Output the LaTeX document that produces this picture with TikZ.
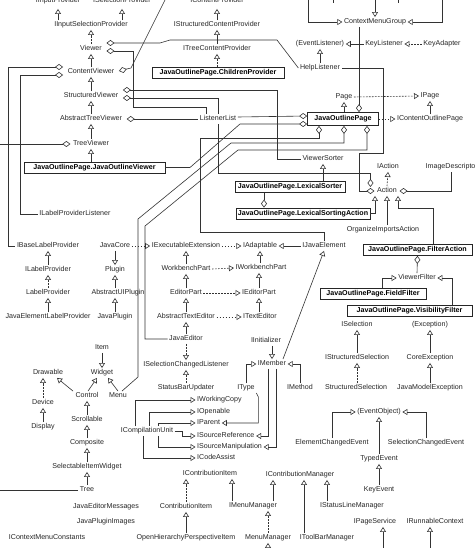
\documentclass[tikz,border=0pt]{standalone}
\usepackage{fontspec}
\setmainfont{Liberation Sans}
\usetikzlibrary{arrows.meta}
\begin{document}
\begin{tikzpicture}[x=1pt,y=-1pt,
  every node/.style={font=\fontsize{7.1}{8}\selectfont, inner xsep=1.5pt, inner ysep=1.5pt, text height=5.1pt, text depth=1.4pt, text=black!85},
  bx/.style={draw=black!85, line width=0.7pt, font=\fontsize{7.1}{8}\selectfont\bfseries, text=black, minimum height=11pt, inner xsep=0pt, inner ysep=0pt},
  ln/.style={draw=black!80, line width=0.6pt},
  inh/.style={ln, -{Triangle[open, length=5pt, width=6pt]}},
  real/.style={inh, dash pattern=on 1.6pt off 1.4pt},
  agg/.style={ln, {Diamond[open, length=8pt, width=6pt]}-},
]
\fill[white] (0,0) rectangle (474,548);
\useasboundingbox (0,0) rectangle (474,548);

% ---------- nodes ----------
\node (iinputprov) at (58,1) {IInputProvider};
\node (iselprov) at (122,1) {ISelectionProvider};
\node (icontprov) at (217,1) {IContentProvider};
\node (iinputsel) at (91,25) {IInputSelectionProvider};
\node (istructcp) at (217,25) {IStructuredContentProvider};
\node (viewer) at (91,49) {Viewer};
\node (itreecp) at (217,49) {ITreeContentProvider};
\node (contentviewer) at (91,72) {ContentViewer};
\node[bx, minimum width=132pt] (childprov) at (218,72.5) {JavaOutlinePage.ChildrenProvider};
\node (structviewer) at (91,96) {StructuredViewer};
\node (abstracttv) at (91,119) {AbstractTreeViewer};
\node (listenerlist) at (218,119) {ListenerList};
\node (treeviewer) at (91,144) {TreeViewer};
\node[bx, minimum width=141pt] (jov) at (94.5,167.5) {JavaOutlinePage.JavaOutlineViewer};
\node (cmg) at (375,22) {ContextMenuGroup};
\node (eventlistener) at (320,44) {(EventListener)};
\node (keylistener) at (384,44) {KeyListener};
\node (keyadapter) at (442,44) {KeyAdapter};
\node (helplistener) at (320,68) {HelpListener};
\node (page) at (344,97) {Page};
\node (ipage) at (430,96) {IPage};
\node[bx, minimum width=71pt, minimum height=13pt] (jop) at (343,119) {JavaOutlinePage};
\node (icop) at (430,119) {IContentOutlinePage};
\node (viewersorter) at (323,159) {ViewerSorter};
\node (iaction) at (388,167) {IAction};
\node[anchor=west] (imagedesc) at (424,167) {ImageDescriptor};
\node[bx, minimum width=110pt] (lexsorter) at (290,187) {JavaOutlinePage.LexicalSorter};
\node (action) at (387,191) {Action};
\node[bx, minimum width=134pt] (lsa) at (303,213.5) {JavaOutlinePage.LexicalSortingAction};
\node (organize) at (383,230) {OrganizeImportsAction};
\node[bx, minimum width=109pt] (fa) at (417.5,250) {JavaOutlinePage.FilterAction};
\node (ilpl) at (75,214) {ILabelProviderListener};
\node (ibaselp) at (48,246) {IBaseLabelProvider};
\node (javacore) at (115,246) {JavaCore};
\node (iexecext) at (186,246) {IExecutableExtension};
\node (iadaptable) at (260,246) {IAdaptable};
\node (ijavaelement) at (324,246) {IJavaElement};
\node (ilabelprov) at (48,270) {ILabelProvider};
\node (plugin) at (115,270) {Plugin};
\node (workbenchpart) at (186,269) {WorkbenchPart};
\node (iworkbenchpart) at (261,268) {IWorkbenchPart};
\node (viewerfilter) at (417,278) {ViewerFilter};
\node (labelprov) at (48,293) {LabelProvider};
\node (abstractuip) at (118,293) {AbstractUIPlugin};
\node (editorpart) at (186,293) {EditorPart};
\node (ieditorpart) at (259,293) {IEditorPart};
\node[bx, minimum width=106pt] (ff) at (373,293.5) {JavaOutlinePage.FieldFilter};
\node[bx, minimum width=125pt] (vf) at (409.5,311) {JavaOutlinePage.VisibilityFilter};
\node (jelp) at (48,317) {JavaElementLabelProvider};
\node (javaplugin) at (115,317) {JavaPlugin};
\node (ate) at (186,317) {AbstractTextEditor};
\node (itexteditor) at (260,317) {ITextEditor};
\node (iselection) at (357,325) {ISelection};
\node (exception) at (430,325) {(Exception)};
\node (javaeditor) at (186,339) {JavaEditor};
\node (iinitializer) at (266,341) {IInitializer};
\node (item) at (102,348) {Item};
\node (istructsel) at (357,358) {IStructuredSelection};
\node (coreexc) at (430,358) {CoreException};
\node (imember) at (272,364) {IMember};
\node (iscl) at (186,365) {ISelectionChangedListener};
\node (drawable) at (48,373) {Drawable};
\node (widget) at (102,373) {Widget};
\node (statusbar) at (186,388) {StatusBarUpdater};
\node (itype) at (246,388) {IType};
\node (imethod) at (300,388) {IMethod};
\node (structsel) at (356,388) {StructuredSelection};
\node (javamodelexc) at (430,388) {JavaModelException};
\node (control) at (87,396) {Control};
\node (menu) at (118,396) {Menu};
\node[anchor=west] (iworkingcopy) at (195.5,400) {IWorkingCopy};
\node[anchor=west] (iopenable) at (195.5,412) {IOpenable};
\node[anchor=west] (iparent) at (195.5,423) {IParent};
\node[anchor=west] (isourceref) at (195.5,436) {ISourceReference};
\node[anchor=west] (isourcemanip) at (195.5,447) {ISourceManipulation};
\node[anchor=west] (icodeassist) at (195.5,458) {ICodeAssist};
\node (device) at (43,403) {Device};
\node (eventobject) at (379,412) {(EventObject)};
\node (scrollable) at (87,420) {Scrollable};
\node (display) at (43,427) {Display};
\node (icu) at (147,431) {ICompilationUnit};
\node (composite) at (87,443) {Composite};
\node (elemchanged) at (332,443) {ElementChangedEvent};
\node (selchanged) at (426,443) {SelectionChangedEvent};
\node (typedevent) at (379,459) {TypedEvent};
\node (selectable) at (87,467) {SelectableItemWidget};
\node (icontribitem) at (210,474) {IContributionItem};
\node (icontribmgr) at (300,475) {IContributionManager};
\node (tree) at (87,490) {Tree};
\node (keyevent) at (379,490) {KeyEvent};
\node (javaeditormsg) at (106,507) {JavaEditorMessages};
\node (contribitem) at (186,507) {ContributionItem};
\node (imenumgr) at (253,506) {IMenuManager};
\node (istatuslm) at (352,506) {IStatusLineManager};
\node (javapluginimg) at (106,522) {JavaPluginImages};
\node (ipageservice) at (375,522) {IPageService};
\node (irunnable) at (435,522) {IRunnableContext};
\node (icmc) at (47,538) {IContextMenuConstants};
\node (openhier) at (186,538) {OpenHierarchyPerspectiveItem};
\node (menumgr) at (268,538) {MenuManager};
\node (itoolbar) at (327,538) {IToolBarManager};

% ---------- free ends / helper coordinates ----------
\coordinate (offTop1) at (167,-4);
\coordinate (offL1) at (-2,144);
\coordinate (offL2) at (-2,490);
\coordinate (topL) at (308,-4);
\coordinate (topM) at (375,-4);
\coordinate (topR) at (442,-4);
\coordinate (stub1) at (333,-4);
\coordinate (stub2) at (398,-4);
\coordinate (offB1) at (268,552);
\coordinate (offB2) at (383,552);
\coordinate (offB3) at (430,552);
\coordinate (jopT) at ([xshift=16pt]jop.north);
\coordinate (jopB1) at ([xshift=-24pt]jop.south);
\coordinate (jopB2) at ([xshift=1pt]jop.south);
\coordinate (jopB3) at ([xshift=24pt]jop.south);
\coordinate (actTL) at ([xshift=-5pt,yshift=4pt]action.west);
\coordinate (actB1) at ([xshift=-12pt]action.south);
\coordinate (actB2) at (action.south);
\coordinate (actB3) at ([xshift=11pt]action.south);
\coordinate (lsaT) at ([xshift=-39pt]lsa.north);
\coordinate (imA) at ([xshift=-21pt]imenumgr.north);
\coordinate (imB) at ([xshift=20pt]imenumgr.north);
\coordinate (tbA) at ([xshift=-23pt]itoolbar.north);
\coordinate (slA) at ([xshift=-25pt]istatuslm.north);

% ---------- viewer hierarchy ----------
\draw[inh] (iinputsel.north -| iinputprov) -- ([yshift=-3pt]iinputprov.south);
\draw[inh] (iinputsel.north -| iselprov) -- ([yshift=-3pt]iselprov.south);
\draw[inh] (istructcp.north) -- ([yshift=-3pt]icontprov.south);
\draw[real] (viewer.north) -- (iinputsel.south);
\draw[inh] (contentviewer.north) -- (viewer.south);
\draw[inh] (structviewer.north) -- (contentviewer.south);
\draw[inh] (abstracttv.north) -- (structviewer.south);
\draw[inh] (treeviewer.north) -- (abstracttv.south);
\draw[inh] (jov.north -| treeviewer) -- (treeviewer.south);
\draw[inh] (itreecp.north) -- (istructcp.south);
\draw[real] (childprov.north -| itreecp) -- (itreecp.south);

% ---------- aggregations ----------
\draw[agg] ([xshift=3pt,yshift=6pt]viewer.east) -- (160,43) -- (170,40) -- (277,40) -- (helplistener.west);
\draw[agg] ([xshift=3pt,yshift=-2pt]viewer.east) -- (133,51) -- (133,107) -- (206,107) -- (listenerlist.north -| 206,0);
\draw[agg] ([xshift=-3pt,yshift=5pt]contentviewer.west) -- (8,67) |- (ibaselp.west);
\draw[agg] ([xshift=-3pt,yshift=-3pt]contentviewer.west) -- (20,75) |- (ilpl.west);
\draw[agg] ([xshift=3pt,yshift=1pt]contentviewer.east) -- (131,68) -- (offTop1);
\draw[agg] ([xshift=3pt,yshift=6pt]structviewer.east) -- (277,90) |- (viewersorter.west);
\draw[agg] ([xshift=3pt,yshift=-2pt]structviewer.east) -| (listenerlist.north);
\draw[agg] ([xshift=3pt]abstracttv.east) -- (listenerlist.west);
\draw[agg] ([xshift=-1pt]treeviewer.west) -- (offL1);
\draw[agg] ([yshift=3pt]jop.west) -- ([yshift=2pt]listenerlist.east);
\draw[agg] ([yshift=-5pt]jop.west) -- (240,124) -- (190,167.5) -- (jov.east);
\draw[agg] (jopT) -- (jopT |- cmg.south);
\draw[agg] (jopB1) |- (200,138) -- (200,232) -| (ijavaelement.north);
\draw[agg] (jopB2) |- (231,143) -- (138,219) -- (138,377) -- ([xshift=4pt]menu.north);
\draw[agg] (jopB3) |- (238,150) -- (145,226) |- (javaeditor.west);
\draw[agg] (actTL) -- ++(0,-14) -| (listenerlist.south);
\draw[agg] ([xshift=-1pt]action.west) -- (359,191) |- (383,153) |- (helplistener.east);
\draw[agg] ([xshift=1pt]action.east) -| (imagedesc.south);
\draw[agg] (lsaT) -- (lsaT |- lexsorter.south);
\draw[agg] (fa.south) -- (viewerfilter.north);

% ---------- actions / filters ----------
\draw[inh] (lexsorter.north -| viewersorter) -- (viewersorter.south);
\draw[real] (action.north) -- (iaction.south);
\draw[inh] (lsa.east) -| (actB1);
\draw[inh] (organize.north -| actB2) -- (actB2);
\draw[inh] ([xshift=15.5pt]fa.north) -- ++(0,-36) -| (actB3);
\draw[inh] ([xshift=9pt]ff.north) |- (viewerfilter.west);
\draw[inh] ([xshift=42.5pt]vf.north) |- (viewerfilter.east);

% ---------- page ----------
\draw[inh] (jop.north -| page) -- (page.south);
\draw[real] (page.east) -- (ipage.west);
\draw[inh] (icop.north) -- (ipage.south);
\draw[real] (jop.east) -- (icop.west);

% ---------- context menu group / listeners ----------
\draw[inh] (topL) |- (cmg.west);
\draw[inh] (topM) -- (cmg.north);
\draw[inh] (topR) |- (cmg.east);
\draw[ln] (stub1) -- ++(0,7);
\draw[ln] (stub2) -- ++(0,7);
\draw[inh] (keylistener.west) -- (eventlistener.east);
\draw[real] (keyadapter.west) -- (keylistener.east);
\draw[inh] (helplistener.north) -- (eventlistener.south);

% ---------- label providers / plugins / editors ----------
\draw[inh] (ilabelprov.north) -- (ibaselp.south);
\draw[real] (labelprov.north) -- (ilabelprov.south);
\draw[inh] (jelp.north) -- (labelprov.south);
\draw[inh] (javacore.south) -- (plugin.north);
\draw[inh] (abstractuip.north -| plugin) -- (plugin.south);
\draw[inh] (javaplugin.north) -- (javaplugin.north |- abstractuip.south);
\draw[real] (javacore.east) -- (iexecext.west);
\draw[real] (iexecext.east) -- (iadaptable.west);
\draw[inh] (ijavaelement.west) -- (iadaptable.east);
\draw[inh] (workbenchpart.north) -- (iexecext.south);
\draw[real] (workbenchpart.east) -- (iworkbenchpart.west);
\draw[inh] (iworkbenchpart.north -| iadaptable) -- (iadaptable.south);
\draw[inh] (editorpart.north) -- (workbenchpart.south);
\draw[real] (editorpart.east) -- (ieditorpart.west);
\draw[inh] (ieditorpart.north) -- (ieditorpart.north |- iworkbenchpart.south);
\draw[inh] (ate.north) -- (editorpart.south);
\draw[real] (ate.east) -- (itexteditor.west);
\draw[inh] (itexteditor.north -| ieditorpart) -- (ieditorpart.south);
\draw[inh] (javaeditor.north) -- (ate.south);
\draw[real] (javaeditor.south) -- (iscl.north);
\draw[real] (statusbar.north) -- (iscl.south);

% ---------- widgets ----------
\draw[inh] (item.south) -- (widget.north);
\draw[inh] ([xshift=1pt]control.north) -- ([xshift=-5pt]widget.south);
\draw[inh] ([xshift=-14pt]control.north) -- ([xshift=9pt]drawable.south);
\draw[inh] (menu.north) -- ([xshift=6pt]widget.south);
\draw[real] (device.north) -- (device.north |- drawable.south);
\draw[inh] (display.north) -- (device.south);
\draw[inh] (scrollable.north) -- (control.south);
\draw[inh] (composite.north) -- (scrollable.south);
\draw[inh] (selectable.north) -- (composite.south);
\draw[inh] (tree.north) -- (selectable.south);
\draw[ln] (tree.west) -- (offL2);

% ---------- compilation unit ----------
\draw[inh] ([xshift=-12pt]icu.north) |- (iworkingcopy.west);
\draw[inh] ([xshift=2pt]icu.north) |- (iopenable.west);
\draw[inh] ([xshift=11pt]icu.north) |- (iparent.west);
\draw[inh] (icu.east) -- ++(8,0) |- (isourceref.west);
\draw[inh] ([xshift=11pt]icu.south) |- (isourcemanip.west);
\draw[inh] ([xshift=-4pt]icu.south) |- (icodeassist.west);
\draw[inh] (itype.north) |- (imember.west);
\draw[inh] (itype.south east) -- ++(2,4) |- (iparent.east);
\draw[inh] ([xshift=-4pt]imember.south) |- (isourceref.east);
\draw[inh] ([xshift=4pt]imember.south) |- (isourcemanip.east);
\draw[inh] (iinitializer.south -| imember) -- (imember.north);
\draw[inh] (imethod.north) |- (imember.east);
\draw[inh] ([xshift=11pt]imember.north) -- (ijavaelement.south);

% ---------- selections / exceptions / events ----------
\draw[inh] (istructsel.north) -- (iselection.south);
\draw[real] (structsel.north -| istructsel) -- (istructsel.south);
\draw[inh] (coreexc.north) -- (exception.south);
\draw[inh] (javamodelexc.north) -- (coreexc.south);
\draw[inh] (elemchanged.north) |- (eventobject.west);
\draw[inh] (selchanged.north) |- (eventobject.east);
\draw[inh] (typedevent.north) -- (eventobject.south);
\draw[inh] (keyevent.north) -- (typedevent.south);

% ---------- contributions ----------
\draw[real] (contribitem.north) -- (contribitem.north |- icontribitem.south);
\draw[inh] (openhier.north) -- (contribitem.south);
\draw[inh] (imA) -- (imA |- icontribitem.south);
\draw[inh] (imB) -- (imB |- icontribmgr.south);
\draw[real] (menumgr.north) -- (menumgr.north |- imenumgr.south);
\draw[inh] (tbA) -- (tbA |- icontribmgr.south);
\draw[inh] (slA) -- (slA |- icontribmgr.south);
\draw[inh] (offB1) -- (menumgr.south);
\draw[inh] (offB2) -- (offB2 |- ipageservice.south);
\draw[inh] (offB3) -- (offB3 |- irunnable.south);
\end{tikzpicture}
\end{document}
